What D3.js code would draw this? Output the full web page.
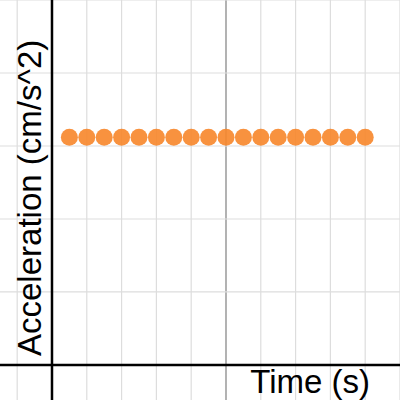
<!DOCTYPE html>
<html><head><meta charset="utf-8">
<script src="https://cdn.jsdelivr.net/npm/d3@7"></script>
<style>body{margin:0}</style></head>
<body><div id="chart"></div>
<script>
// tijd (s) en versnelling (cm/s^2)
var tijden = [0.5,1,1.5,2,2.5,3,3.5,4,4.5,5,5.5,6,6.5,7,7.5,8,8.5,9];
var versnelling = [3.12,3.12,3.12,3.12,3.12,3.12,3.12,3.12,3.12,3.12,3.12,3.12,3.12,3.12,3.12,3.12,3.12,3.12];
var xTicks = [-1,0,1,2,3,4,5,6,7,8,9,10];
var yTicks = [0,1,2,3,4,5];

var width = 400, height = 400;
var x = d3.scaleLinear().domain([-1.494, 10]).range([0, width]);
var y = d3.scaleLinear().domain([-0.48, 5]).range([height, 0]);

var svg = d3.select("#chart").append("svg")
    .attr("width", width).attr("height", height);

// rasterlijnen
svg.selectAll(".vgrid").data(xTicks).enter().append("line")
    .attr("x1", function(d){ return x(d); }).attr("x2", function(d){ return x(d); })
    .attr("y1", 0).attr("y2", height)
    .style("stroke", function(d){ return d == 5 ? "#999" : "#ddd"; })
    .style("stroke-width", function(d){ return d == 5 ? 1.5 : 1.2; });
svg.selectAll(".hgrid").data(yTicks).enter().append("line")
    .attr("y1", function(d){ return y(d); }).attr("y2", function(d){ return y(d); })
    .attr("x1", 0).attr("x2", width)
    .style("stroke", "#ddd").style("stroke-width", 1.2);

// assen
svg.append("line").attr("x1", x(0)).attr("x2", x(0)).attr("y1", 0).attr("y2", height)
    .style("stroke", "#000").style("stroke-width", 2.5);
svg.append("line").attr("y1", y(0)).attr("y2", y(0)).attr("x1", 0).attr("x2", width)
    .style("stroke", "#000").style("stroke-width", 2.5);

// punten
svg.selectAll(".punt").data(tijden).enter().append("circle")
    .attr("cx", function(d){ return x(d); })
    .attr("cy", function(d, i){ return y(versnelling[i]); })
    .attr("r", 8.5)
    .style("fill", "#f7862a").style("opacity", 0.9);

// labels
svg.append("text").attr("x", 370).attr("y", 393).attr("text-anchor", "end")
    .style("font-family", "Arial, 'Liberation Sans', sans-serif").style("font-size", "33px")
    .text("Time (s)");
svg.append("text").attr("transform", "translate(41,356) rotate(-90)")
    .style("font-family", "Arial, 'Liberation Sans', sans-serif").style("font-size", "33px")
    .text("Acceleration (cm/s^2)");
</script></body></html>
